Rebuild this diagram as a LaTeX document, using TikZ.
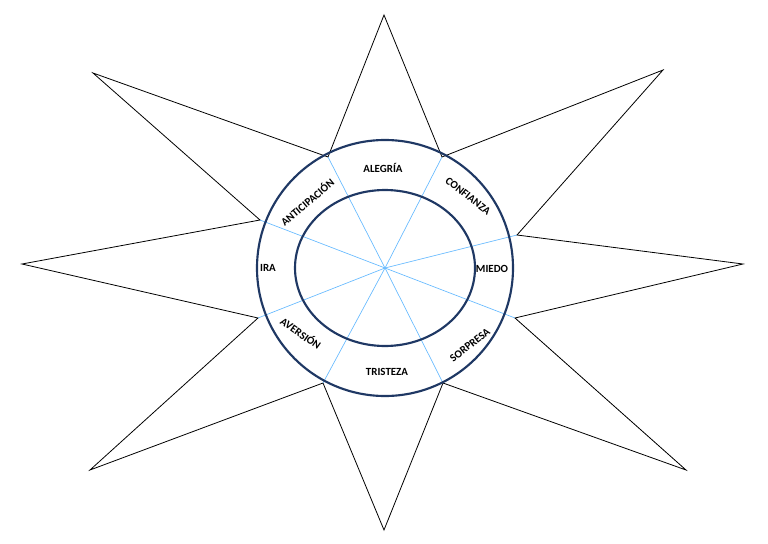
\documentclass[tikz,border=0pt]{standalone}
\usepackage{fontspec}
\setmainfont{Carlito}
\definecolor{ringc}{HTML}{1F3864}
\begin{document}
\begin{tikzpicture}[x=0.75pt,y=-0.75pt,
  star/.style={black,line width=0.6pt},
  ray/.style={blue!45!cyan!60!white,line width=0.5pt},
  ring/.style={draw=ringc,line width=1.6pt},
  lab/.style={font=\bfseries\fontsize{8.2}{10}\selectfont,inner sep=1pt}]
\useasboundingbox (0,0) rectangle (768,543);
\coordinate (c) at (385,268);
\coordinate (v1) at (328,157); \coordinate (v2) at (442,157);
\coordinate (v3) at (517,235); \coordinate (v4) at (515,318);
\coordinate (v5) at (443,383); \coordinate (v6) at (323,383);
\coordinate (v7) at (258,318); \coordinate (v8) at (260,220);
\coordinate (pT) at (384,15); \coordinate (pTR) at (663,70);
\coordinate (pR) at (743,264); \coordinate (pBR) at (686,470);
\coordinate (pB) at (384,530); \coordinate (pBL) at (90,470);
\coordinate (pL) at (22,264); \coordinate (pTL) at (93,73);
\draw[star] (v8)--(pTL)--(v1)--(pT)--(v2)--(pTR)--(v3)--(pR)--(v4)--(pBR)--(v5)--(pB)--(v6)--(pBL)--(v7)--(pL)--cycle;
\foreach \v in {v1,v2,v3,v4,v5,v6,v7,v8} \draw[ray] (c)--(\v);
\draw[ring] (c) ellipse [x radius=128, y radius=128];
\draw[ring] (c) ellipse [x radius=90, y radius=78];
\node[lab] (alegria) at (383,168) {ALEGRÍA};
\node[lab,rotate=-38] (confianza) at (468,196) {CONFIANZA};
\node[lab] (miedo) at (492,269) {MIEDO};
\node[lab,rotate=38] (sorpresa) at (470,345) {SORPRESA};
\node[lab] (tristeza) at (387,372) {TRISTEZA};
\node[lab,rotate=-35] (aversion) at (301,333) {AVERSIÓN};
\node[lab] (ira) at (268,268) {IRA};
\node[lab,rotate=40] (anticip) at (307,202) {ANTICIPACIÓN};
\end{tikzpicture}
\end{document}
